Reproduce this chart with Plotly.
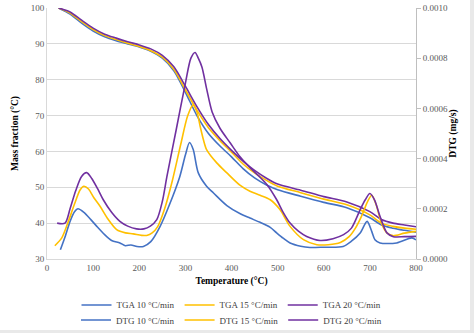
import plotly.graph_objects as go

# ---- data ----
T_tga = [25, 50, 75, 100, 125, 150, 175, 200, 225, 250, 275, 300, 325, 350, 375, 400,
         425, 450, 475, 500, 550, 600, 650, 700, 725, 750, 775, 800]
tga10 = [100, 98.3, 95.8, 93.6, 92.0, 90.9, 90.0, 89.1, 87.9, 86.0, 82.5, 76.5, 70.0, 65.0,
         61.5, 58.5, 55.2, 52.6, 50.7, 49.3, 47.5, 45.8, 44.3, 41.5, 39.5, 38.6, 38.0, 37.5]
tga15 = [100, 98.6, 96.2, 94.0, 92.3, 91.2, 90.2, 89.3, 88.1, 86.3, 82.9, 77.2, 71.5, 66.6,
         63.0, 59.8, 56.5, 54.0, 52.0, 50.3, 48.5, 46.7, 45.1, 42.3, 40.0, 39.1, 38.6, 38.3]
tga20 = [100, 98.9, 96.6, 94.4, 92.7, 91.6, 90.6, 89.7, 88.6, 86.8, 83.6, 78.2, 72.5, 67.5,
         63.6, 60.3, 57.3, 54.7, 52.6, 50.9, 49.2, 47.4, 45.9, 43.2, 41.0, 40.0, 39.5, 39.0]

T_d10 = [29, 40, 50, 60, 67, 80, 95, 108, 125, 140, 158, 170, 182, 195, 209, 225, 245, 265,
         288, 300, 309, 317, 328, 346, 361, 390, 420, 440, 462, 484, 498, 512, 527, 550, 570,
         600, 642, 660, 679, 694, 704, 711, 722, 758, 791, 800]
dtg10 = [0.000037, 0.000093, 0.000150, 0.000189, 0.000200, 0.000186, 0.000157, 0.000130,
         0.000097, 0.000074, 0.000064, 0.000053, 0.000056, 0.000050, 0.000050, 0.000069,
         0.000129, 0.000214, 0.000329, 0.000414, 0.000464, 0.000436, 0.000343, 0.000290,
         0.000263, 0.000213, 0.000179, 0.000163, 0.000146, 0.000126, 0.000104, 0.000083,
         0.000064, 0.000051, 0.000046, 0.000047, 0.000050, 0.000071, 0.000104, 0.000150,
         0.000110, 0.000077, 0.000064, 0.000064, 0.000084, 0.000076]

T_d15 = [17, 32, 45, 60, 72, 80, 90, 102, 115, 133, 151, 170, 187, 205, 216, 228, 240, 255,
         272, 290, 305, 317, 325, 332, 339, 346, 368, 390, 419, 440, 462, 484, 505, 527, 556,
         585, 610, 636, 655, 668, 682, 695, 704, 714, 725, 737, 750, 775, 800]
dtg15 = [0.000053, 0.000084, 0.000143, 0.000221, 0.000276, 0.000290, 0.000279, 0.000243,
         0.000210, 0.000157, 0.000117, 0.000104, 0.000100, 0.000094, 0.000094, 0.000104,
         0.000129, 0.000200, 0.000314, 0.000457, 0.000571, 0.000614, 0.000586, 0.000529,
         0.000476, 0.000436, 0.000383, 0.000343, 0.000293, 0.000270, 0.000254, 0.000236,
         0.000197, 0.000130, 0.000077, 0.000057, 0.000057, 0.000066, 0.000089, 0.000121,
         0.000171, 0.000229, 0.000254, 0.000214, 0.000143, 0.000104, 0.000093, 0.000103,
         0.000110]

T_d20 = [22, 39, 50, 62, 75, 86, 97, 110, 122, 140, 158, 175, 194, 210, 224, 238, 250, 260,
         280, 300, 312, 321, 328, 336, 346, 358, 375, 397, 419, 440, 460, 477, 498, 512, 527,
         545, 563, 592, 620, 643, 660, 679, 690, 700, 710, 722, 737, 751, 775, 800]
dtg20 = [0.000143, 0.000143, 0.000200, 0.000271, 0.000329, 0.000344, 0.000321, 0.000279,
         0.000236, 0.000186, 0.000150, 0.000131, 0.000120, 0.000120, 0.000131, 0.000157,
         0.000229, 0.000329, 0.000514, 0.000700, 0.000800, 0.000823, 0.000800, 0.000764,
         0.000679, 0.000586, 0.000521, 0.000463, 0.000406, 0.000364, 0.000329, 0.000296,
         0.000236, 0.000186, 0.000143, 0.000111, 0.000090, 0.000074, 0.000081, 0.000097,
         0.000123, 0.000197, 0.000236, 0.000261, 0.000236, 0.000170, 0.000104, 0.000089,
         0.000089, 0.000090]

BLUE, YELLOW, PURPLE = "#4472C4", "#FFC000", "#7030A0"
FONT = "Liberation Serif"

fig = go.Figure()
series = [
    ("TGA 10 °C/min", T_tga, tga10, BLUE, "y", "legend"),
    ("TGA 15 °C/min", T_tga, tga15, YELLOW, "y", "legend"),
    ("TGA 20 °C/min", T_tga, tga20, PURPLE, "y", "legend"),
    ("DTG 10 °C/min", T_d10, dtg10, BLUE, "y2", "legend2"),
    ("DTG 15 °C/min", T_d15, dtg15, YELLOW, "y2", "legend2"),
    ("DTG 20 °C/min", T_d20, dtg20, PURPLE, "y2", "legend2"),
]
for name, xs, ys, col, ax, lg in series:
    fig.add_trace(go.Scatter(x=xs, y=ys, name=name, mode="lines", yaxis=ax, legend=lg,
                             line=dict(color=col, width=1.6, shape="spline", smoothing=0.8)))

legend_style = dict(orientation="h", x=0.5, xanchor="center", yanchor="middle",
                    font=dict(size=9, color="#404040"), itemwidth=30,
                    bgcolor="rgba(0,0,0,0)")

fig.update_layout(
    width=474, height=333,
    margin=dict(l=47, r=58, t=8, b=74, autoexpand=False),
    paper_bgcolor="#e9e9e9", plot_bgcolor="white",
    font=dict(family=FONT, size=9, color="#595959"),
    xaxis=dict(range=[0, 800], dtick=100, showgrid=False, showline=True,
               linecolor="#d9d9d9", linewidth=1, ticks="", zeroline=False,
               title=dict(text="<b>Temperature (°C)</b>", font=dict(size=9.5, color="black"),
                          standoff=5)),
    yaxis=dict(range=[30, 100], dtick=10, showgrid=True, gridcolor="#d9d9d9",
               showline=True, linecolor="#d9d9d9", zeroline=False, ticks="",
               title=dict(text="<b>Mass fraction (°C)</b>", font=dict(size=9.5, color="black"),
                          standoff=10)),
    yaxis2=dict(range=[0, 0.001], dtick=0.0002, tickformat=".4f", overlaying="y",
                side="right", showgrid=False, showline=True, linecolor="#bfbfbf",
                ticks="outside", ticklen=4, tickcolor="#bfbfbf", zeroline=False,
                title=dict(text="<b>DTG (mg/s)</b>", font=dict(size=9.5, color="black"),
                           standoff=2)),
    legend=dict(legend_style, y=-0.183),
    legend2=dict(legend_style, y=-0.243),
    shapes=[dict(type="rect", xref="paper", yref="paper", x0=-0.1274, x1=1.1463,
                 y0=-0.2829, y1=1.0319, fillcolor="white", line=dict(width=0),
                 layer="below")],
)

fig.write_html("out.html")
